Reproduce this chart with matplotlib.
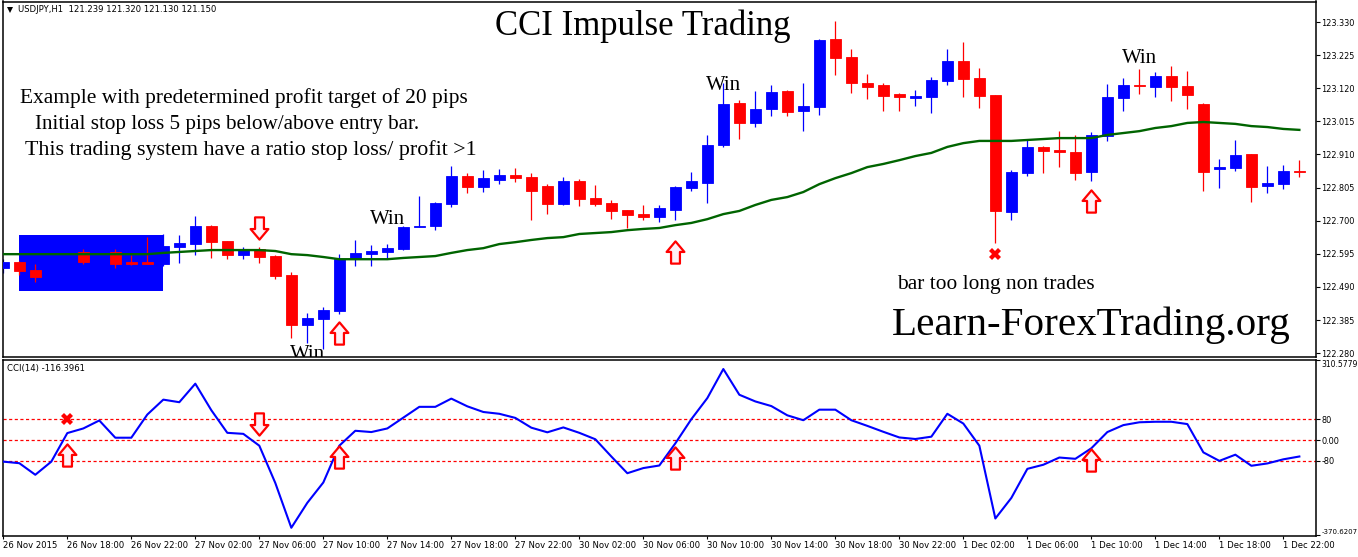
import matplotlib
matplotlib.use('Agg')
import matplotlib.pyplot as plt
from matplotlib.patches import Rectangle
from matplotlib.path import Path

# USDJPY H1 candles, one value per bar
opens = [122.550,122.569,122.544,122.569,122.582,122.601,122.569,122.601,122.569,122.569,
         122.563,122.617,122.626,122.683,122.636,122.591,122.610,122.588,122.528,122.369,
         122.388,122.414,122.578,122.594,122.601,122.610,122.680,122.683,122.753,122.842,
         122.807,122.829,122.845,122.839,122.810,122.753,122.826,122.772,122.756,122.734,
         122.721,122.712,122.734,122.804,122.820,122.940,123.073,123.010,123.054,123.111,
         123.048,123.061,123.276,123.219,123.137,123.130,123.102,123.089,123.092,123.143,
         123.206,123.153,123.099,122.728,122.851,122.934,122.924,122.918,122.854,122.969,
         123.089,123.130,123.124,123.159,123.127,123.070,122.864,122.867,122.912,122.810,
         122.816,122.858]
highs = [122.578,122.572,122.563,122.626,122.623,122.610,122.613,122.610,122.591,122.648,
         122.658,122.655,122.715,122.686,122.636,122.617,122.617,122.591,122.537,122.407,
         122.426,122.594,122.639,122.623,122.626,122.683,122.778,122.759,122.873,122.851,
         122.861,122.864,122.867,122.851,122.816,122.839,122.832,122.813,122.766,122.734,
         122.750,122.750,122.810,122.854,122.972,123.137,123.083,123.111,123.130,123.115,
         123.137,123.276,123.333,123.245,123.165,123.137,123.105,123.115,123.156,123.245,
         123.267,123.184,123.099,122.861,122.956,122.937,122.984,122.972,122.981,123.134,
         123.153,123.181,123.172,123.191,123.175,123.073,122.896,122.956,122.912,122.873,
         122.877,122.892]
lows = [122.534,122.528,122.505,122.556,122.569,122.563,122.556,122.550,122.559,122.563,
        122.556,122.566,122.591,122.582,122.578,122.578,122.566,122.515,122.328,122.312,
        122.293,122.404,122.556,122.556,122.578,122.607,122.680,122.670,122.743,122.788,
        122.791,122.816,122.823,122.702,122.721,122.750,122.747,122.747,122.705,122.677,
        122.702,122.696,122.702,122.794,122.756,122.934,122.959,122.997,123.032,123.032,
        122.984,123.035,123.162,123.105,123.086,123.048,123.048,123.064,123.042,123.130,
        123.092,123.057,122.629,122.702,122.842,122.851,122.870,122.829,122.826,122.953,
        123.048,123.102,123.092,123.080,123.054,122.794,122.804,122.858,122.759,122.788,
        122.800,122.839]
closes = [122.569,122.540,122.521,122.607,122.607,122.569,122.598,122.563,122.563,122.563,
          122.620,122.629,122.683,122.632,122.591,122.607,122.585,122.525,122.369,122.391,
          122.417,122.578,122.598,122.604,122.613,122.680,122.683,122.756,122.842,122.807,
          122.835,122.845,122.835,122.794,122.753,122.826,122.769,122.753,122.731,122.718,
          122.712,122.740,122.807,122.826,122.940,123.070,123.010,123.054,123.108,123.045,
          123.064,123.273,123.216,123.137,123.124,123.095,123.092,123.095,123.146,123.206,
          123.149,123.095,122.731,122.854,122.934,122.921,122.918,122.851,122.972,123.092,
          123.130,123.127,123.159,123.124,123.099,122.854,122.870,122.908,122.807,122.820,
          122.858,122.854]
ma = [122.594,122.594,122.594,122.594,122.594,122.594,122.594,122.594,122.594,122.594,
      122.598,122.601,122.604,122.607,122.607,122.607,122.607,122.604,122.594,122.591,
      122.585,122.578,122.578,122.578,122.578,122.582,122.585,122.588,122.598,122.607,
      122.613,122.626,122.632,122.639,122.645,122.648,122.658,122.661,122.664,122.670,
      122.674,122.677,122.686,122.693,122.705,122.721,122.731,122.750,122.766,122.775,
      122.791,122.816,122.835,122.851,122.870,122.880,122.892,122.905,122.915,122.934,
      122.946,122.953,122.953,122.953,122.956,122.959,122.962,122.962,122.962,122.972,
      122.978,122.984,122.994,123.000,123.010,123.013,123.010,123.007,123.000,122.997,
      122.991,122.988]
cci = [-84,-90,-135,-84,27,45,76,9,9,99,157,147,219,116,28,24,-22,-167,-341,-244,
       -165,-22,36,31,45,87,129,129,161,131,109,102,86,48,30,49,28,3,-64,-129,
       -109,-99,-13,81,163,276,176,150,132,96,77,118,118,77,55,32,10,4,13,102,
       64,-22,-305,-225,-112,-96,-68,-73,-32,31,58,69,71,71,62,-48,-81,-57,-100,-91,
       -75,-64]

price_ticks = [123.330,123.225,123.120,123.015,122.910,122.805,122.700,122.595,122.490,122.385,122.280]
cci_ticks = [310.5779,80,0,-80,-370.6207]
cci_tick_labels = ['310.5779','80','0.00','-80','-370.6207']
time_ticks = list(range(0,82,4))
time_labels = ['26 Nov 2015','26 Nov 18:00','26 Nov 22:00','27 Nov 02:00','27 Nov 06:00','27 Nov 10:00',
               '27 Nov 14:00','27 Nov 18:00','27 Nov 22:00','30 Nov 02:00','30 Nov 06:00','30 Nov 10:00',
               '30 Nov 14:00','30 Nov 18:00','30 Nov 22:00','1 Dec 02:00','1 Dec 06:00','1 Dec 10:00',
               '1 Dec 14:00','1 Dec 18:00','1 Dec 22:00']

W, H = 1358, 557
fig = plt.figure(figsize=(W/100, H/100), dpi=100, facecolor='white')

def axes_px(x0, y0, x1, y1):
    return fig.add_axes([x0/W, 1-y1/H, (x1-x0)/W, (y1-y0)/H])

def px_text(x, y, s, **kw):
    fig.text(x/W, 1-y/H, s, va='center', **kw)

ax = axes_px(2.5, 1.5, 1316, 357)
ax2 = axes_px(2.5, 359.5, 1316, 536)

xlim = (-0.05, 82.04)
ax.set_xlim(xlim)
ax2.set_xlim(xlim)
ax.set_ylim(122.268, 123.395)
ax2.set_ylim(-373, 313)

# price panel
ax.add_patch(Rectangle((1, 122.477), 9, 0.178, color='#0000ff', lw=0, zorder=1))
for i in range(len(opens)):
    c = '#0000ff' if closes[i] >= opens[i] else '#ff0000'
    ax.vlines(i, lows[i], highs[i], color=c, lw=0.9, zorder=2)
    ax.bar(i, abs(closes[i]-opens[i]), bottom=min(opens[i], closes[i]), width=0.69,
           color=c, lw=0.6, edgecolor=c, zorder=3)
ax.plot(range(len(ma)), ma, color='#006400', lw=1.7, zorder=4)

up_arrow = Path([(0,1),(.8,.05),(.4,.05),(.4,-1),(-.4,-1),(-.4,.05),(-.8,.05),(0,1)], closed=True)
down_arrow = Path([(0,-1),(.8,-.05),(.4,-.05),(.4,1),(-.4,1),(-.4,-.05),(-.8,-.05),(0,-1)], closed=True)
arrow_style = dict(ls='none', ms=16, mfc='#fff0f6', mec='#ff0000', mew=1.6, zorder=6)

ax.plot([21,42,68], [122.343,122.600,122.762], marker=up_arrow, **arrow_style)
ax.plot([16], [122.677], marker=down_arrow, **arrow_style)
ax.plot([62], [122.595], marker='X', ms=9, color='#ff0000', mew=0, ls='none', zorder=6)

for x, y in [(45,123.130),(24,122.705),(71,123.213)]:
    ax.text(x, y, 'Win', family='Liberation Serif', fontsize=15, ha='center', va='center', zorder=7)
ax.text(19, 122.277, 'Win', family='Liberation Serif', fontsize=15, ha='center', va='center',
        zorder=7, clip_on=True)

# little dropdown triangle next to the symbol name
ax.plot([0.0055], [0.9765], marker='v', ms=4.5, color='black', mew=0, ls='none',
        transform=ax.transAxes, zorder=7)

# cci panel
for lev in (80, 0, -80):
    ax2.axhline(lev, color='#ff0000', lw=0.9, dashes=(2.5, 2), zorder=1)
ax2.plot(range(len(cci)), cci, color='#0000ff', lw=1.5, zorder=3)
ax2.plot([4,21,42,68], [-58,-66,-70,-78], marker=up_arrow, **arrow_style)
ax2.plot([16], [62], marker=down_arrow, **arrow_style)
ax2.plot([4], [82], marker='X', ms=9, color='#ff0000', mew=0, ls='none', zorder=6)

for a in (ax, ax2):
    for s in a.spines.values():
        s.set_linewidth(1.1)
        s.set_color('black')
    a.yaxis.tick_right()
    a.tick_params(axis='y', length=3, width=0.8, pad=0.8, labelsize=5.9)
    a.tick_params(axis='x', length=2.5, width=0.8, pad=1.2, labelsize=6.1)

ax.set_xticks([])
ax.set_yticks(price_ticks)
ax.set_yticklabels(['%.3f' % p for p in price_ticks])
ax2.set_yticks(cci_ticks)
ax2.set_yticklabels(cci_tick_labels)
ax2.set_xticks(time_ticks)
ax2.set_xticklabels(time_labels, ha='left')
# the two extreme labels sit inside the panel height, and have to fit the right edge
ax2.get_yticklabels()[0].set_va('top')
ax2.get_yticklabels()[0].set_fontsize(5.5)
ax2.get_yticklabels()[-1].set_va('bottom')
ax2.get_yticklabels()[-1].set_fontsize(5.0)

# titles and notes
serif = dict(family='Liberation Serif', color='black')
px_text(643, 26, 'CCI Impulse Trading', ha='center', fontsize=25, **serif)
px_text(1091, 325, 'Learn-ForexTrading.org', ha='center', fontsize=29.6, **serif)
px_text(20, 98, 'Example with predetermined profit target of 20 pips', fontsize=15.4, **serif)
px_text(35, 124, 'Initial stop loss 5 pips below/above entry bar.', fontsize=15.2, **serif)
px_text(25, 150, 'This trading system have a ratio stop loss/ profit >1', fontsize=15.8, **serif)
px_text(897, 285, 'bar too long non trades', fontsize=15.4, **serif)
px_text(18, 10, 'USDJPY,H1  121.239 121.320 121.130 121.150', fontsize=6.1, color='black')
px_text(7, 368, 'CCI(14) -116.3961', fontsize=6.1, color='black')

fig.savefig('out.png', dpi=100)
